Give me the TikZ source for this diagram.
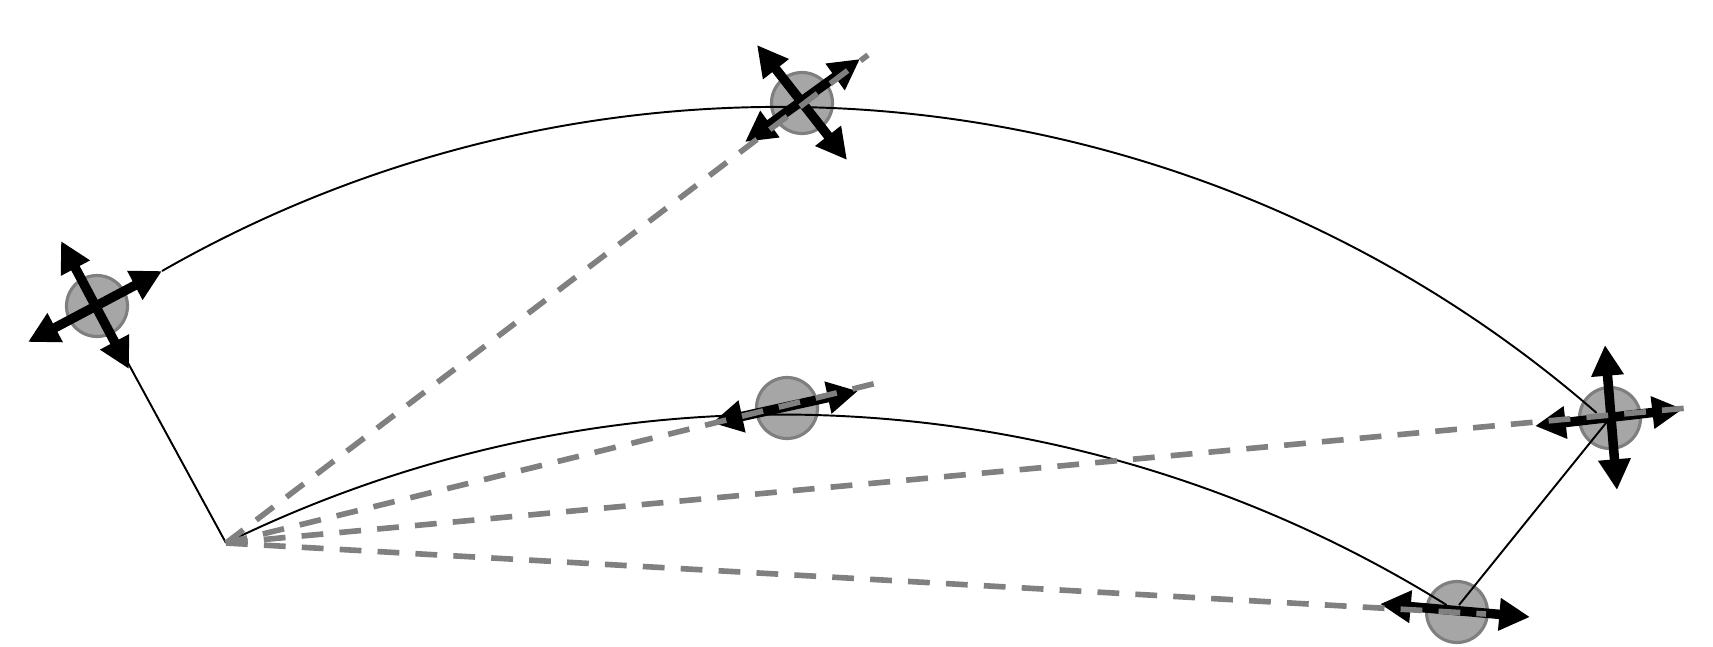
\documentclass[tikz,border=0pt]{standalone}
\usetikzlibrary{arrows.meta}
\definecolor{ballfill}{HTML}{A6A6A6}
\definecolor{balldraw}{HTML}{7F7F7F}
\definecolor{dashgray}{HTML}{808080}
\begin{document}
\begin{tikzpicture}[x=0.02cm,y=0.02cm,
  ball/.style={circle,minimum size=1.22cm,inner sep=0pt,fill=ballfill,draw=balldraw,line width=1.8pt},
  thinline/.style={line width=1.1pt,black},
  dashline/.style={line width=3.2pt,dashgray,dash pattern=on 12.4pt off 9.2pt},
  bigarrow/.style={line width=5.4pt,black,{Triangle[length=17.5pt,width=17.5pt]}-{Triangle[length=17.5pt,width=17.5pt]}}]
\useasboundingbox (0,0) rectangle (1713,-646);
% balls
\node[ball] (A) at (97,-306) {};
\node[ball] (B) at (802,-103) {};
\node[ball] (C) at (787,-408) {};
\node[ball] (D) at (1610,-418) {};
\node[ball] (E) at (1457,-612) {};
% key points
\coordinate (O) at (226,-543);
\coordinate (As) at (162,-271);
% thin outline
\draw[thinline] (A.center) -- (O);
\draw[thinline] (As) arc[start angle=119.77,end angle=48.93,radius=24.88cm];
\draw[thinline] (O) arc[start angle=116.10,end angle=58.08,radius=25.208cm];
\draw[thinline] (D.center) -- (1459,-605) coordinate (Et);
% arrow end points
\coordinate (a1s) at (28,-342);   \coordinate (a1e) at (162,-271);
\coordinate (a2s) at (61,-241);   \coordinate (a2e) at (129,-369);
\coordinate (b1s) at (745,-142);  \coordinate (b1e) at (860,-59);
\coordinate (b2s) at (757,-45);   \coordinate (b2e) at (847,-160);
\coordinate (c1s) at (712,-423);  \coordinate (c1e) at (858,-391);
\coordinate (d1s) at (1535,-426); \coordinate (d1e) at (1683,-409);
\coordinate (d2s) at (1605,-345); \coordinate (d2e) at (1617,-490);
\coordinate (e1s) at (1380,-604); \coordinate (e1e) at (1530,-617);
\draw[bigarrow] (a1s) -- (a1e);
\draw[bigarrow] (a2s) -- (a2e);
\draw[bigarrow] (b1s) -- (b1e);
\draw[bigarrow] (b2s) -- (b2e);
\draw[bigarrow] (c1s) -- (c1e);
\draw[bigarrow] (d1s) -- (d1e);
\draw[bigarrow] (d2s) -- (d2e);
\draw[bigarrow] (e1s) -- (e1e);
% dashed rays
\coordinate (Bend) at (868,-55);
\coordinate (Cend) at (881,-382);
\coordinate (Dend) at (1698,-407);
\coordinate (Eend) at (1486,-614);
\draw[dashline] (O) -- (Bend);
\draw[dashline] (O) -- (Cend);
\draw[dashline] (O) -- (Dend);
\draw[dashline] (O) -- (Eend);
\end{tikzpicture}
\end{document}
